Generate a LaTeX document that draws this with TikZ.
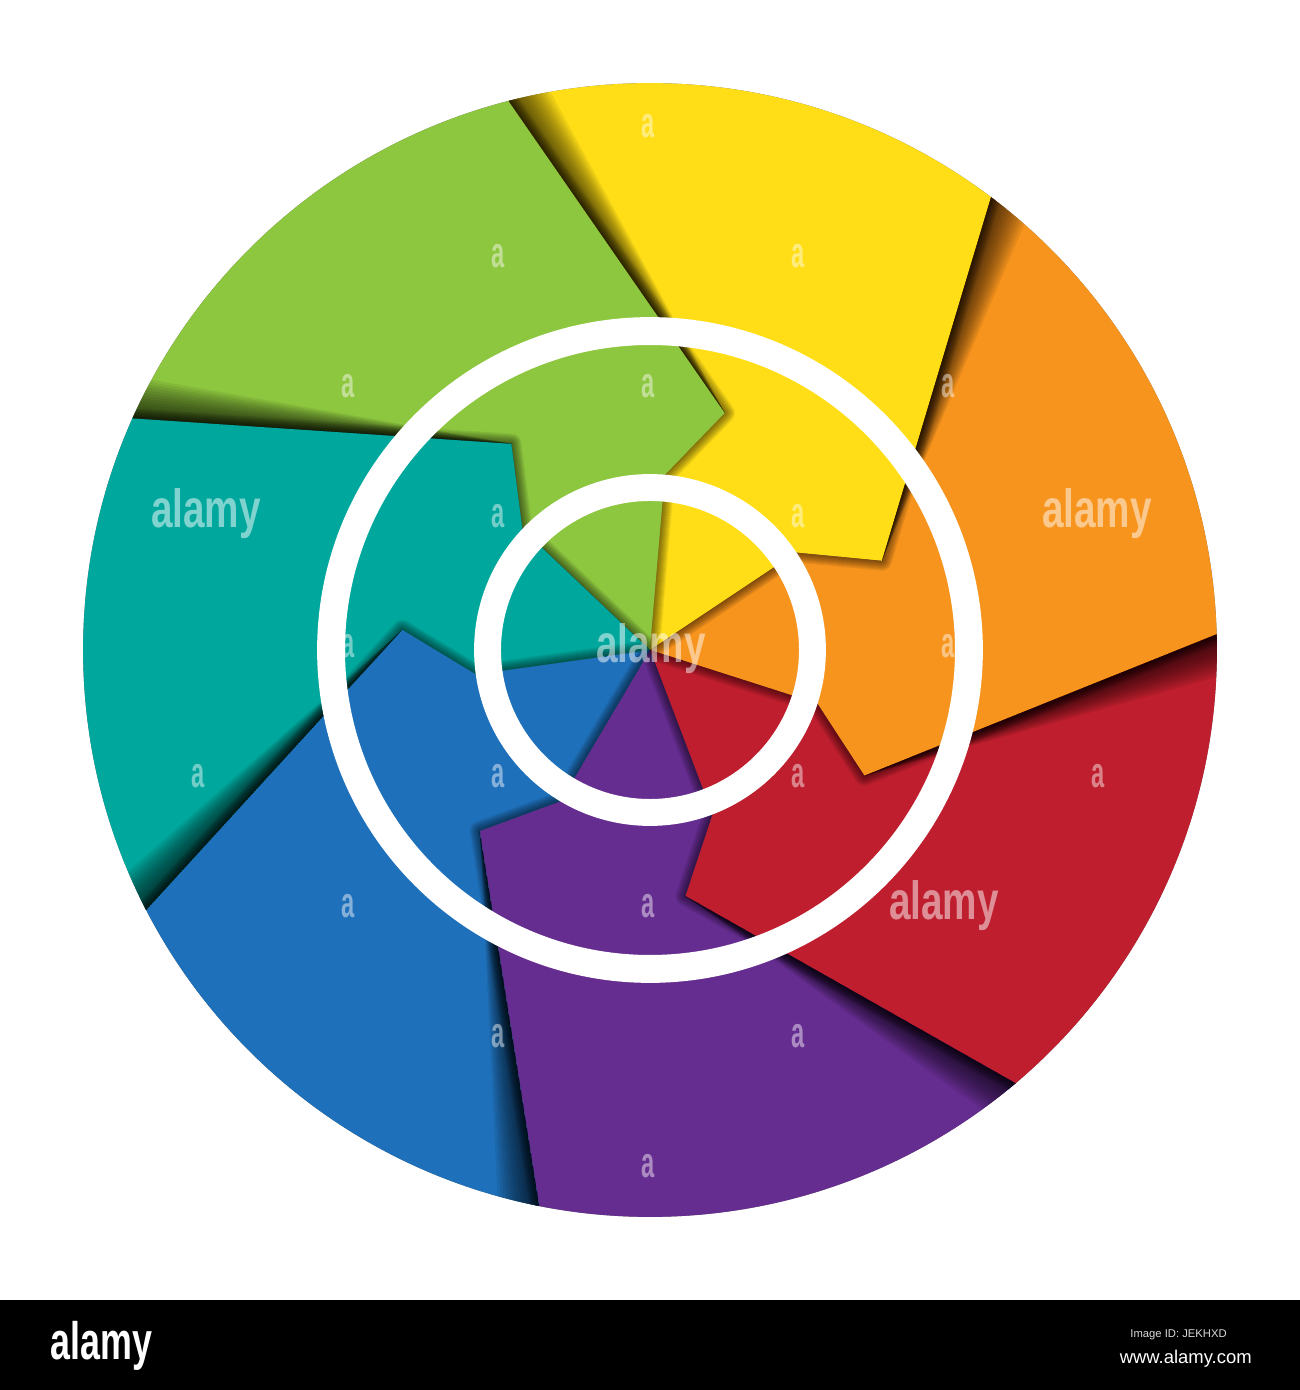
\documentclass[tikz,border=0pt]{standalone}
\usepackage{fontspec}
\usepackage{graphicx}
\newfontfamily\wmfont{Liberation Sans}
\definecolor{cgreen}{HTML}{8DC63F}
\definecolor{cyellow}{HTML}{FFDE17}
\definecolor{corange}{HTML}{F7941D}
\definecolor{cred}{HTML}{BE1E2D}
\definecolor{cpurple}{HTML}{662D91}
\definecolor{cblue}{HTML}{1F70BA}
\definecolor{cteal}{HTML}{00A79D}
\tikzset{
  shadowline/.style={black, opacity=0.06, line join=round, line cap=round},
  shadowwedge/.style={black, opacity=0.07},
  ringline/.style={white},
  wmbig/.style={text=white, text opacity=0.5, inner sep=0pt, anchor=base, font=\wmfont\bfseries\fontsize{30.6}{31}\selectfont},
  wmsmall/.style={text=white, text opacity=0.45, inner sep=0pt, anchor=base, font=\wmfont\bfseries\fontsize{24.5}{25}\selectfont},
  barlogo/.style={text=white, inner sep=0pt, anchor=base west, font=\wmfont\bfseries\fontsize{30}{30}\selectfont},
  barsmall/.style={text=white!85!black, inner sep=0pt, anchor=base east, font=\wmfont\fontsize{6.4}{7}\selectfont},
  barurl/.style={text=white, inner sep=0pt, anchor=base east, font=\wmfont\fontsize{10.5}{11}\selectfont},
}
\newcommand{\bigmark}{\scalebox{0.72}[1]{alamy}}
\newcommand{\smallmark}{\scalebox{0.55}[1]{a}}
\begin{document}
\begin{tikzpicture}[x=0.02cm,y=0.02cm]
\useasboundingbox (0,0) rectangle (1300,1390);
\fill[white] (0,0) rectangle (1300,1390);
\coordinate (C) at (650,740);

\begin{scope}
  \clip (C) circle (11.34cm);
  \fill[black!60] (C) circle (11.4cm);
  % pieces
  \foreach \k/\col in {0/cgreen,1/cyellow,2/corange,3/cred,4/cpurple,5/cblue,6/cteal}{
    \fill[\col, shift={(650,740)}, rotate={-51.4286*\k}]
      (0,0) -- (85.10:175.64) -- (72.44:248.58) -- (114.15:1070.7)
      -- (165.58:1070.7) -- (123.87:248.58) -- (136.53:175.64) -- cycle;
  }
  % shadows cast by piece k onto its clockwise neighbour
  \foreach \k in {0,...,6}{
    \begin{scope}[shift={(650,740)}, rotate={-51.4286*\k}]
      \clip (0,0) -- (33.67:175.64) -- (21.01:248.58) -- (62.72:1070.7)
        -- (114.15:1070.7) -- (72.44:248.58) -- (85.10:175.64) -- cycle;
      \foreach \w in {2,4,...,20}{
        \draw[shadowline, line width=\w*0.567pt]
          (0,0) -- (85.10:175.64) -- (72.44:248.58) -- (114.15:1070.7);
      }
      \begin{scope}[shift={(72.44:248.58)}, rotate=124.73]
        \foreach \i in {1,...,14}{
          \fill[shadowwedge] (0,0) -- (900,0) -- (900,{-7*\i}) -- cycle;
        }
      \end{scope}
    \end{scope}
  }
\end{scope}

% white rings
\draw[ringline, line width=28*0.567pt] (C) circle (6.38cm);
\draw[ringline, line width=27*0.567pt] (C) circle (3.25cm);

% watermark marks
\node[wmbig] (wm1) at (206,862) {\bigmark};
\node[wmbig] (wm2) at (1097,862) {\bigmark};
\node[wmbig] (wm3) at (944,470) {\bigmark};
\node[wmbig] (wm4) at (651,727) {\bigmark};
\foreach \x/\y [count=\n] in {648/1252, 498/1122, 798/1122, 348/992, 648/992, 948/992,
  498/862, 798/862, 348/732, 948/732, 198/602, 498/602, 798/602, 1098/602,
  348/472, 648/472, 498/342, 798/342, 648/212}{
  \node[wmsmall] (sa\n) at (\x,\y) {\smallmark};
}

% bottom bar
\fill[black] (0,0) rectangle (1300,90);
\node[barlogo] (logo) at (50,31) {\scalebox{0.68}[1]{alamy}};
\node[barsmall] (imgid) at (1227,52) {Image ID: JEKHXD};
\node[barurl] (url) at (1252,27) {www.alamy.com};
\end{tikzpicture}
\end{document}
